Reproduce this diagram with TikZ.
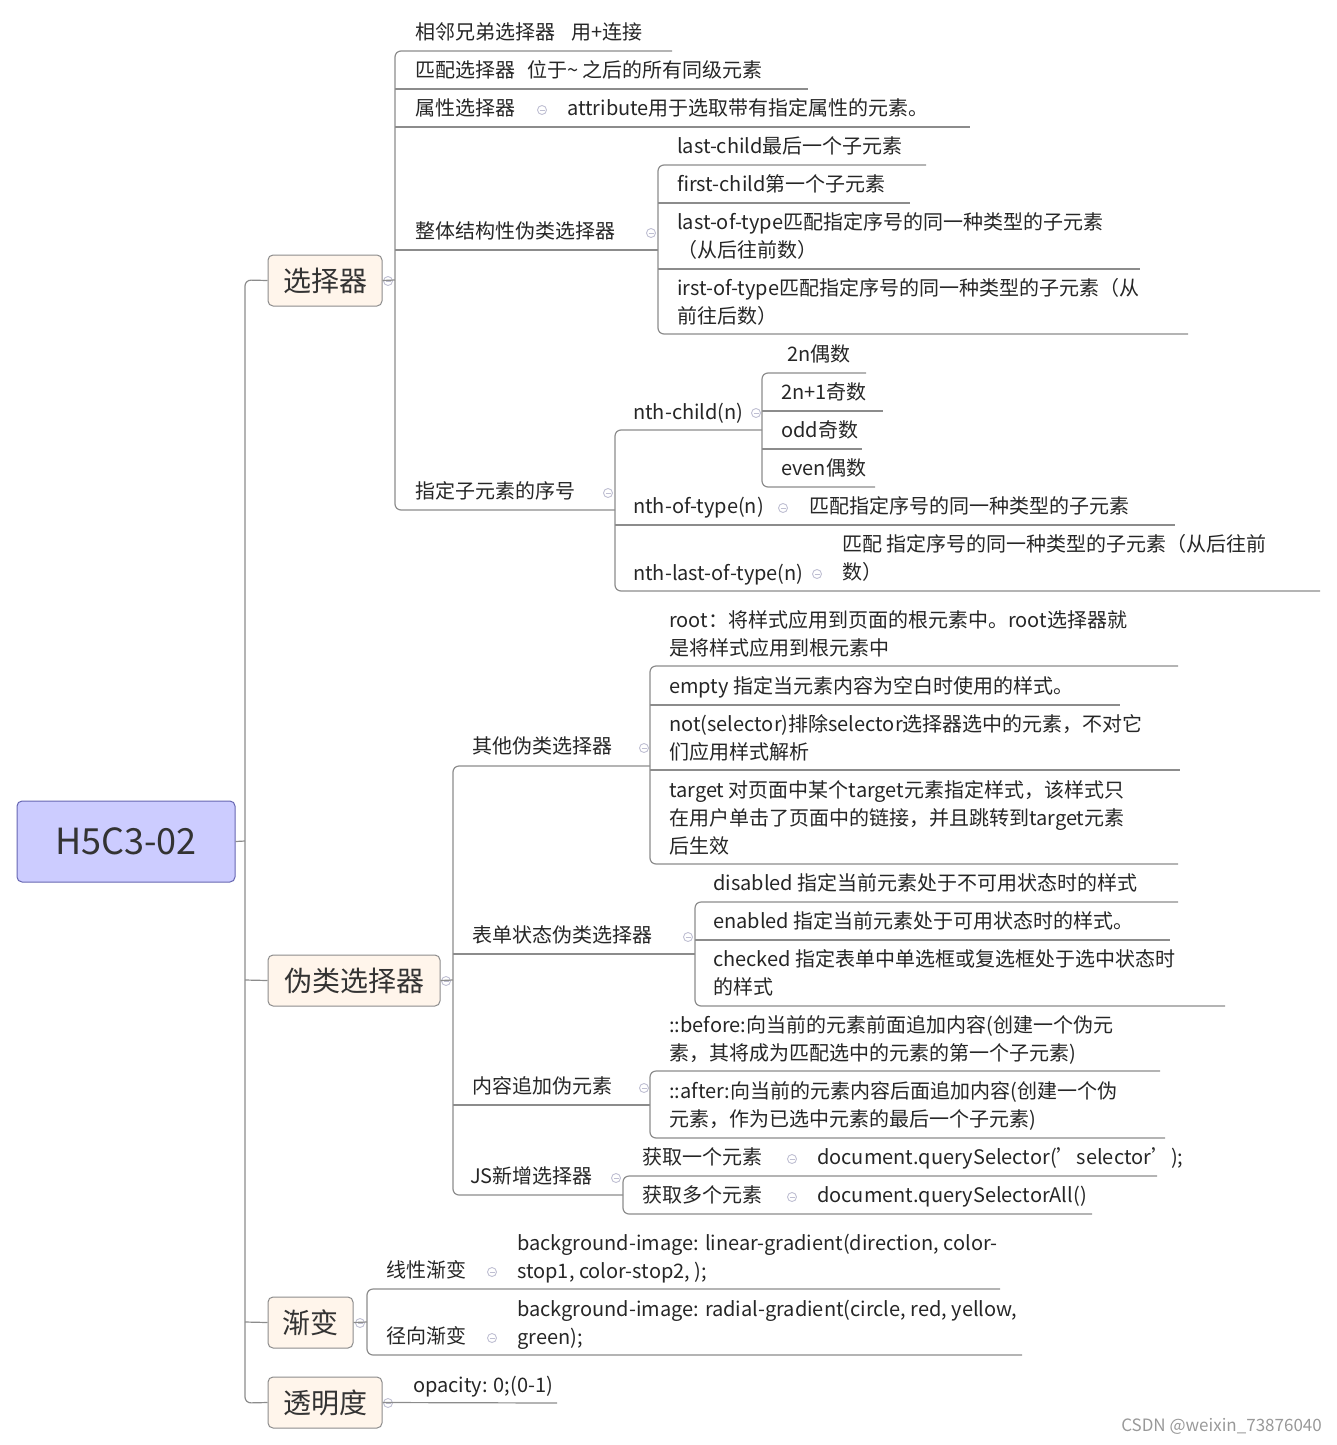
\documentclass[tikz,border=0pt]{standalone}
\usepackage{fontspec}
\setmainfont{Noto Sans CJK SC}
\begin{document}
\begin{tikzpicture}[x=1pt,y=-1pt,
  itm/.style={anchor=north west,inner sep=0pt,align=left,font=\fontsize{20}{28}\selectfont,text=black!85},
  ln/.style={draw=black!45,line width=1.2pt},
  grp/.style={ln,rounded corners=6pt},
  colc/.style={draw=blue!30!black!25,line width=0.9pt},
  topbox/.style={draw=black!45,line width=1pt,fill=orange!8,rounded corners=5pt,inner sep=0pt,text=black!80,font=\fontsize{28}{32}\selectfont},
]
\useasboundingbox (0,0) rectangle (1337,1445);
\newcommand\itm[4]{\node[itm] (#1) at (#2,#3-12) {\strut #4};}
\newcommand\col[2]{\draw[colc] (#1,#2) circle (4.5); \draw[colc] (#1-2.5,#2)--(#1+2.5,#2);}

% root
\node[draw=blue!50!black!60,line width=1pt,fill=blue!20,rounded corners=5pt,minimum width=218pt,minimum height=81pt,inner sep=0pt,text=black!80,font=\fontsize{36}{40}\selectfont] (root) at (126,841.5) {H5C3-02};
\node[topbox,minimum width=114pt,minimum height=51pt] (sel) at (325,280.5) {选择器};
\node[topbox,minimum width=172pt,minimum height=51pt] (pse) at (354,980.5) {伪类选择器};
\node[topbox,minimum width=85pt,minimum height=51pt] (grad) at (310.5,1322.5) {渐变};
\node[topbox,minimum width=114pt,minimum height=51pt] (opa) at (325,1402.5) {透明度};

\draw[ln] (root.east) -- (245,841);
\draw[grp] (sel.west) -- (245,280) -- (245,1403) -- (opa.west);
\draw[ln] (245,980) -- (pse.west);
\draw[ln] (245,1322) -- (grad.west);
\col{388}{281}\col{446}{981}\col{360}{1323}\col{388}{1403}

% ---- 选择器
\draw[ln] (sel.east) -- (395,280);
\draw[grp] (672,51) -- (395,51) -- (395,510) -- (615,510);
\itm{a1}{415}{32}{相邻兄弟选择器\hspace{0.8em}用+连接}
\itm{a2}{415}{70}{匹配选择器\hspace{0.6em}位于\textasciitilde\ 之后的所有同级元素}
\draw[ln] (395,89) -- (808,89);
\itm{a3}{415}{108}{属性选择器}
\col{542}{110}
\itm{a3c}{567}{108}{attribute用于选取带有指定属性的元素。}
\draw[ln] (395,127) -- (970,127);
\itm{a4}{415}{231}{整体结构性伪类选择器}
\draw[ln] (395,250) -- (658,250);
\col{651}{233}
\draw[grp] (926,165) -- (658,165) -- (658,334) -- (1188,334);
\itm{b1}{677}{146}{last-child最后一个子元素}
\itm{b2}{677}{184}{first-child第一个子元素}
\draw[ln] (658,203) -- (910,203);
\itm{b3}{677}{222}{last-of-type匹配指定序号的同一种类型的子元素\\\strut （从后往前数）}
\draw[ln] (658,269) -- (1140,269);
\itm{b4}{677}{288}{irst-of-type匹配指定序号的同一种类型的子元素（从\\\strut 前往后数）}
\itm{a5}{415}{491}{指定子元素的序号}
\col{608}{493}
\draw[grp] (762,430) -- (615,430) -- (615,591) -- (1320,591);
\itm{c1}{633}{412}{nth-child(n)}
\col{756}{413}
\draw[grp] (866,373) -- (762,373) -- (762,487) -- (875,487);
\itm{d1}{787}{354}{2n偶数}
\itm{d2}{781}{392}{2n+1奇数}
\draw[ln] (762,411) -- (883,411);
\itm{d3}{781}{430}{odd奇数}
\draw[ln] (762,449) -- (862,449);
\itm{d4}{781}{468}{even偶数}
\itm{c2}{633}{506}{nth-of-type(n)}
\col{783}{508}
\itm{c2c}{809}{506}{匹配指定序号的同一种类型的子元素}
\draw[ln] (615,525) -- (1175,525);
\itm{c3}{633}{573}{nth-last-of-type(n)}
\col{817}{574}
\itm{c3c}{842}{544}{匹配 指定序号的同一种类型的子元素（从后往前\\\strut 数）}

% ---- 伪类选择器
\draw[ln] (pse.east) -- (453,980);
\draw[grp] (650,766) -- (453,766) -- (453,1195) -- (623,1195);
\itm{e1}{472}{746}{其他伪类选择器}
\col{644}{748}
\draw[grp] (1178,666) -- (650,666) -- (650,864) -- (1178,864);
\itm{f1}{669}{620}{root：将样式应用到页面的根元素中。root选择器就\\\strut 是将样式应用到根元素中}
\itm{f2}{669}{686}{empty 指定当元素内容为空白时使用的样式。}
\draw[ln] (650,705) -- (1120,705);
\itm{f3}{669}{724}{not(selector)排除selector选择器选中的元素，不对它\\\strut 们应用样式解析}
\draw[ln] (650,770) -- (1180,770);
\itm{f4}{669}{790}{target 对页面中某个target元素指定样式，该样式只\\\strut 在用户单击了页面中的链接，并且跳转到target元素\\\strut 后生效}
\itm{e2}{472}{935}{表单状态伪类选择器}
\col{688}{937}
\draw[ln] (453,954) -- (695,954);
\draw[grp] (1178,902) -- (695,902) -- (695,1006) -- (1225,1006);
\itm{g1}{713}{883}{disabled 指定当前元素处于不可用状态时的样式}
\itm{g2}{713}{921}{enabled 指定当前元素处于可用状态时的样式。}
\draw[ln] (695,940) -- (1170,940);
\itm{g3}{713}{959}{checked 指定表单中单选框或复选框处于选中状态时\\\strut 的样式}
\itm{e3}{472}{1086}{内容追加伪元素}
\col{644}{1088}
\draw[ln] (453,1105) -- (650,1105);
\draw[grp] (1160,1071) -- (650,1071) -- (650,1138) -- (1165,1138);
\itm{h1}{669}{1025}{::before:向当前的元素前面追加内容(创建一个伪元\\\strut 素，其将成为匹配选中的元素的第一个子元素)}
\itm{h2}{669}{1091}{::after:向当前的元素内容后面追加内容(创建一个伪\\\strut 元素，作为已选中元素的最后一个子元素)}
\itm{e4}{470}{1176}{JS新增选择器}
\col{616}{1178}
\draw[grp] (1157,1176) -- (623,1176) -- (623,1214) -- (1092,1214);
\itm{i1}{642}{1157}{获取一个元素}
\col{792}{1159}
\itm{i1c}{817}{1157}{document.querySelector('selector');}
\itm{i2}{642}{1195}{获取多个元素}
\col{792}{1197}
\itm{i2c}{817}{1195}{document.querySelectorAll()}

% ---- 渐变
\draw[ln] (grad.east) -- (367,1322);
\draw[grp] (1000,1289) -- (367,1289) -- (367,1355) -- (1022,1355);
\itm{j1}{386}{1270}{线性渐变}
\col{492}{1272}
\itm{j1c}{517}{1243}{background-image: linear-gradient(direction, color-\\\strut stop1, color-stop2, );}
\itm{j2}{386}{1336}{径向渐变}
\col{492}{1338}
\itm{j2c}{517}{1309}{background-image: radial-gradient(circle, red, yellow,\\\strut green);}

% ---- 透明度
\draw[ln] (opa.east) -- (557,1403);
\itm{k1}{413}{1385}{opacity: 0;(0-1)}

\node[anchor=east,inner sep=0pt,text=black!40,font=\fontsize{17}{20}\selectfont] (wm) at (1322,1426) {CSDN @weixin\_73876040};
\end{tikzpicture}
\end{document}
